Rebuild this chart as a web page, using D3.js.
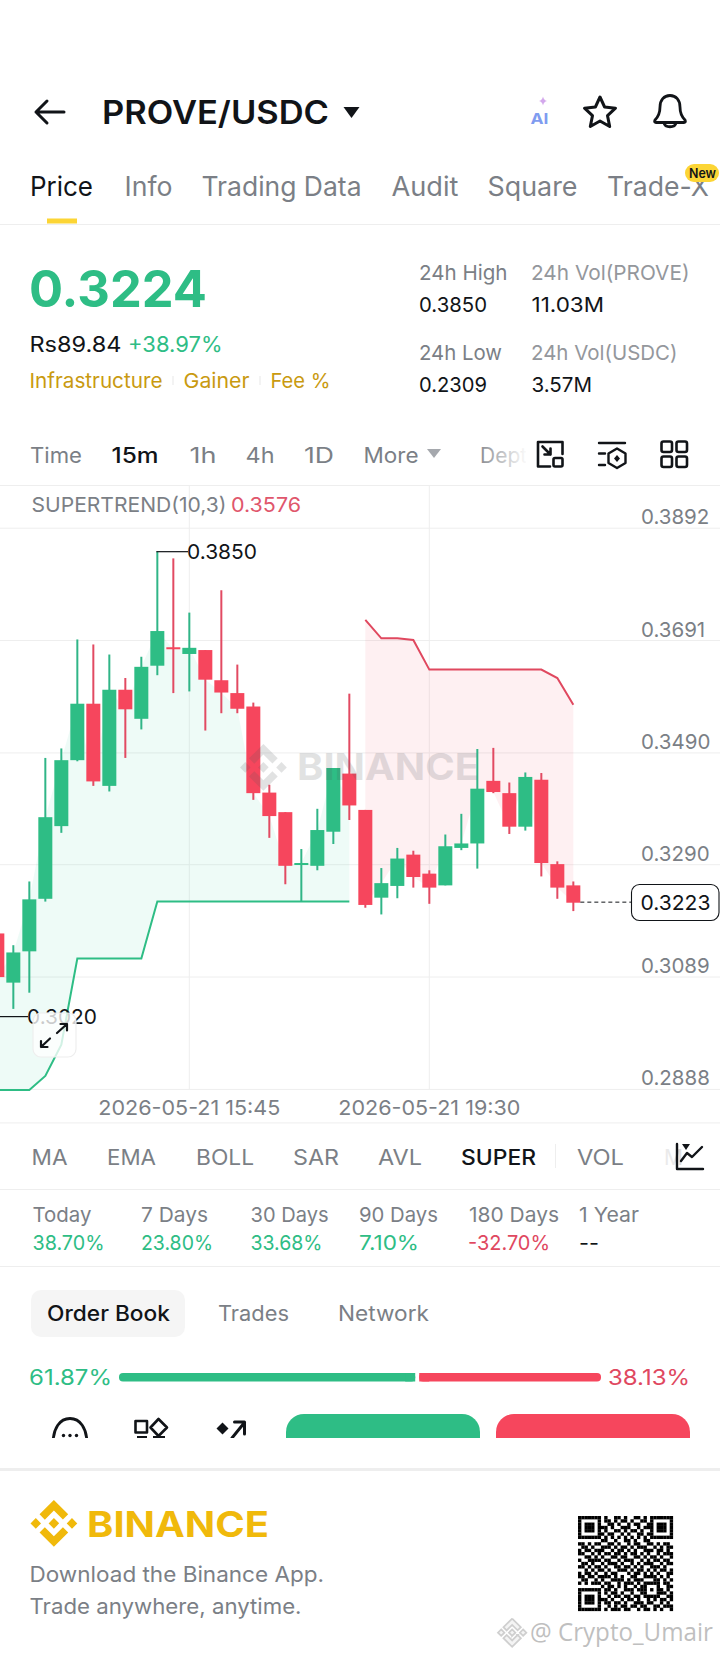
<!DOCTYPE html>
<html>
<head>
<meta charset="utf-8">
<title>PROVE/USDC</title>
<script src="https://cdn.jsdelivr.net/npm/d3@7/dist/d3.min.js"></script>
<style>
  html, body { margin: 0; padding: 0; background: #fff; }
  svg { display: block; }
  text { font-family: Inter, Roboto, sans-serif; }
</style>
</head>
<body>
<div id="chart"></div>
<script>
// candles, oldest first, first one is cut by the left edge
var candleIndex = d3.range(-1, 36)
var candleOpen = [0.3167, 0.3079, 0.3135, 0.3229, 0.3359, 0.3477, 0.3578, 0.3431, 0.3603, 0.3551, 0.3646, 0.3679, 0.3667, 0.3674, 0.3620, 0.3597, 0.3573, 0.3419, 0.3384, 0.3291, 0.3288, 0.3349, 0.3453, 0.3388, 0.3231, 0.3252, 0.3308, 0.3274, 0.3253, 0.3320, 0.3328, 0.3440, 0.3418, 0.3358, 0.3442, 0.3291, 0.3253]
var candleClose = [0.3089, 0.3133, 0.3228, 0.3375, 0.3477, 0.3578, 0.3439, 0.3603, 0.3568, 0.3644, 0.3708, 0.3676, 0.3678, 0.3621, 0.3598, 0.3569, 0.3418, 0.3377, 0.3288, 0.3293, 0.3352, 0.3463, 0.3396, 0.3218, 0.3257, 0.3301, 0.3268, 0.3249, 0.3323, 0.3328, 0.3426, 0.3420, 0.3358, 0.3447, 0.3293, 0.3249, 0.3222]
var candleHigh = [0.3167, 0.3146, 0.3260, 0.3481, 0.3498, 0.3693, 0.3684, 0.3666, 0.3624, 0.3662, 0.3850, 0.3838, 0.3741, 0.3674, 0.3781, 0.3648, 0.3580, 0.3433, 0.3384, 0.3318, 0.3390, 0.3463, 0.3596, 0.3388, 0.3284, 0.3320, 0.3315, 0.3280, 0.3344, 0.3381, 0.3497, 0.3499, 0.3437, 0.3455, 0.3454, 0.3296, 0.3260]
var candleLow = [0.3089, 0.3032, 0.3061, 0.3224, 0.3347, 0.3475, 0.3431, 0.3421, 0.3481, 0.3532, 0.3629, 0.3597, 0.3600, 0.3530, 0.3561, 0.3561, 0.3406, 0.3338, 0.3255, 0.3224, 0.3280, 0.3327, 0.3370, 0.3213, 0.3201, 0.3230, 0.3249, 0.3220, 0.3253, 0.3316, 0.3283, 0.3418, 0.3345, 0.3351, 0.3269, 0.3229, 0.3207]

// supertrend, up leg runs candle -1 to 21, down leg 22 to 35
var superUp = [0.2887, 0.2887, 0.2887, 0.2912, 0.2968, 0.3122, 0.3122, 0.3122, 0.3122, 0.3122, 0.3224, 0.3224, 0.3224, 0.3224, 0.3224, 0.3224, 0.3224, 0.3224, 0.3224, 0.3224, 0.3224, 0.3224, 0.3224]
var superDown = [0.3728, 0.3695, 0.3695, 0.3692, 0.3639, 0.3639, 0.3639, 0.3639, 0.3639, 0.3639, 0.3639, 0.3639, 0.3624, 0.3576]

var priceTicks = [0.3892, 0.3691, 0.3490, 0.3290, 0.3089, 0.2888]
var dateTicks = [11, 26]
var dateLabels = ['2026-05-21 15:45', '2026-05-21 19:30']
var highPrice = 0.3850
var lowPrice = 0.3020
var lastPrice = 0.3223

var tabs = ['Price', 'Info', 'Trading Data', 'Audit', 'Square', 'Trade-X']
var intervals = ['Time', '15m', '1h', '4h', '1D', 'More']
var indicators = ['MA', 'EMA', 'BOLL', 'SAR', 'AVL', 'SUPER', 'VOL']
var periods = ['Today', '7 Days', '30 Days', '90 Days', '180 Days', '1 Year']
var periodValues = ['38.70%', '23.80%', '33.68%', '7.10%', '-32.70%', '--']
var bookTabs = ['Order Book', 'Trades', 'Network']
var buyShare = 61.87
var sellShare = 38.13

var qrRows = [
  '11111110100110100110101111111',
  '10000010110101101001101000001',
  '10111010011010010110011011101',
  '10111011101001110010111011101',
  '10111010100110101101001011101',
  '10000011011001010011011000001',
  '11111110101010101010101111111',
  '00000001100100110100110000000',
  '11010110011010010110011010110',
  '01101001110101101011100101011',
  '10110111001011010100111011010',
  '11001010110110101101010010111',
  '00110101001101100110101101001',
  '10011110110010111001010110110',
  '01101001011101001010111001011',
  '11010110100110110101001110100',
  '00101011010011101011010101101',
  '10110100101100010110101010011',
  '11011011110101001100111101010',
  '01100101001111010111000110101',
  '10101110110010111010111110110',
  '00000001011010100101100010011',
  '11111110110100111011101011010',
  '10000010101101001001100011101',
  '10111010010110110110111110011',
  '10111011101001011010010101101',
  '10111010110110100111011001010',
  '10000010010101101101100110111',
  '11111110101110110010110101001'
]

var GREEN = '#2ebd85'
var RED = '#f6465d'
var RED_LINE = '#e0485f'
var WICK_GREEN = '#30b587'
var WICK_RED = '#e24a62'
var DARK = '#111418'
var GRAY = '#7b7f86'
var LIGHT_GRAY = '#94979c'
var RULE = '#eeeeee'
var GOLD = '#c99a10'
var YELLOW = '#fcd535'
var LOGO = 'M16.624 13.9202l2.7175 2.7154-7.353 7.353-7.353-7.352 2.7175-2.7164 4.6355 4.6595 4.6356-4.6595zm4.6366-4.6366L24 12l-2.7154 2.7164L18.5682 12l2.6924-2.7164zm-9.272.001l2.7163 2.6914-2.7164 2.7174v-.001L9.2721 12l2.7164-2.7154zm-9.2722-.001L5.4088 12l-2.6914 2.6924L0 12l2.7164-2.7164zM11.9885.0115l7.353 7.329-2.7174 2.7154-4.6356-4.6356-4.6355 4.6595-2.7174-2.7154 7.353-7.353z'

var svg = d3.select('#chart').append('svg')
  .attr('width', 720)
  .attr('height', 1658)
  .attr('viewBox', '0 0 720 1658')

var defs = svg.append('defs')
var fade = defs.append('linearGradient')
  .attr('id', 'depth-fade')
  .attr('gradientUnits', 'userSpaceOnUse')
  .attr('x1', 480).attr('x2', 528).attr('y1', 0).attr('y2', 0)
fade.append('stop').attr('offset', 0).attr('stop-color', '#8a8d92')
fade.append('stop').attr('offset', 1).attr('stop-color', '#ffffff')
defs.append('clipPath').attr('id', 'bar-clip')
  .append('rect').attr('x', 0).attr('y', 1400).attr('width', 720).attr('height', 38)

// measured widths are ink widths, textLength also counts the side bearings
function label (parent, str, x, y, size, color, weight, width) {
  var t = parent.append('text')
    .attr('x', width ? x - 1 : x)
    .attr('y', y)
    .attr('font-size', size)
    .attr('font-weight', weight || 400)
    .attr('fill', color)
    .text(str)
  if (width) {
    t.attr('textLength', width + 2).attr('lengthAdjust', 'spacingAndGlyphs')
  }
  return t
}

function icon (parent, d, width) {
  return parent.append('path')
    .attr('d', d)
    .attr('fill', 'none')
    .attr('stroke', DARK)
    .attr('stroke-width', width || 2.5)
    .attr('stroke-linecap', 'round')
    .attr('stroke-linejoin', 'round')
}

function hline (parent, y, height) {
  parent.append('rect')
    .attr('x', 0).attr('y', y)
    .attr('width', 720).attr('height', height || 1)
    .attr('fill', RULE)
}

// header
var head = svg.append('g').attr('class', 'header')
icon(head, 'M36 112H64M47 101L36 112L47 123', 3)
label(head, 'PROVE/USDC', 103, 123.5, 32, DARK, 600, 225)
head.append('path').attr('d', 'M343.5 107H359.5L351.5 118Z').attr('fill', DARK)
head.append('path').attr('d', 'M543 96.5Q543.8 100.2 547 101Q543.8 101.8 543 105.5Q542.2 101.8 539 101Q542.2 100.2 543 96.5Z').attr('fill', '#d3a8ec')
label(head, 'AI', 531.5, 124, 14, '#7f9cf0', 700, 16)
icon(head, 'M600 97L604.6 107L615.5 108.2L607.5 115.6L609.7 126.5L600 121L590.3 126.5L592.5 115.6L584.5 108.2L595.4 107Z', 3)
icon(head, 'M655 120C659 116 660 112 660 107C660 100 664 95.500 670 95.500C676 95.500 680 100 680 107C680 112 681 116 685 120C686 122 685 122.500 684 122.500H656C655 122.500 654 122 655 120ZM664 123C665 128 675 128 676 123', 2.8)

// tabs
var tabBox = [[31, 61], [125.5, 46], [202.5, 158], [392.5, 65], [488.5, 88], [608, 100]]
var tabRow = svg.append('g').attr('class', 'tabs')
tabs.forEach(function (name, i) {
  label(tabRow, name, tabBox[i][0], 196, 26.5, i === 0 ? DARK : GRAY, 400, tabBox[i][1])
})
tabRow.append('rect').attr('x', 47).attr('y', 218.5).attr('width', 30).attr('height', 5).attr('fill', YELLOW)
hline(tabRow, 224)
tabRow.append('rect').attr('x', 685).attr('y', 164).attr('width', 34).attr('height', 18).attr('rx', 9).attr('fill', YELLOW)
label(tabRow, 'New', 690, 177.5, 13.5, DARK, 600, 25)

// ticker block
var ticker = svg.append('g').attr('class', 'ticker')
label(ticker, '0.3224', 30, 306.500, 51, GREEN, 700, 176)
label(ticker, 'Rs89.84', 30.5, 351.500, 21, DARK, 400, 90)
label(ticker, '+38.97%', 129, 351.500, 21, GREEN, 400, 92.500)
label(ticker, 'Infrastructure', 30.5, 388, 20.5, GOLD, 400, 131)
label(ticker, 'Gainer', 184.5, 388, 20.5, GOLD, 400, 64)
label(ticker, 'Fee %', 271.5, 388, 20.5, GOLD, 400, 58)
ticker.selectAll('rect.sep').data([172.5, 259.5]).enter().append('rect')
  .attr('class', 'sep').attr('x', function (d) { return d })
  .attr('y', 376).attr('width', 1).attr('height', 9).attr('fill', '#e8e8e8')
label(ticker, '24h High', 420, 280, 20.5, GRAY, 400, 86.500)
label(ticker, '24h Vol(PROVE)', 532, 280, 20.5, LIGHT_GRAY, 400, 156.500)
label(ticker, '0.3850', 420, 311.500, 20.5, DARK, 400, 66)
label(ticker, '11.03M', 532.5, 311.500, 20.5, DARK, 400, 70.500)
label(ticker, '24h Low', 420, 360, 20.5, GRAY, 400, 81)
label(ticker, '24h Vol(USDC)', 532, 360, 20.5, LIGHT_GRAY, 400, 144.500)
label(ticker, '0.2309', 420, 391.500, 20.5, DARK, 400, 66)
label(ticker, '3.57M', 532.5, 391.500, 20.5, DARK, 400, 58.500)

// interval row
var intervalBox = [[31, 50], [112.5, 45], [190.5, 25], [246.5, 27], [305, 28], [364.5, 53]]
var intervalRow = svg.append('g').attr('class', 'intervals')
intervals.forEach(function (name, i) {
  label(intervalRow, name, intervalBox[i][0], 462.500, 21, i === 1 ? DARK : GRAY, i === 1 ? 500 : 400, intervalBox[i][1])
})
intervalRow.append('path').attr('d', 'M427 449H441L434 458Z').attr('fill', '#a5a8ad')
label(intervalRow, 'Depth', 480, 462.500, 21, 'url(#depth-fade)', 400)
intervalRow.append('rect').attr('x', 526).attr('y', 435).attr('width', 194).attr('height', 40).attr('fill', '#fff')
icon(intervalRow, 'M550 466.500H538V442H562.500V454M542.500 446.500L550.500 454.500M550.500 448.500V454.500H544.500', 2.6)
intervalRow.append('rect').attr('x', 553.500).attr('y', 458).attr('width', 9).attr('height', 8.500).attr('rx', 1.500)
  .attr('fill', 'none').attr('stroke', DARK).attr('stroke-width', 2.6)
icon(intervalRow, 'M599 443H625M599 453.500H605M599 465H605', 2.4)
icon(intervalRow, 'M617 448.500L625.500 453.500V463L617 468L608.500 463V453.500Z', 2.4)
intervalRow.append('path').attr('d', 'M617 455L620 458.500L617 462L614 458.500Z').attr('fill', DARK)
intervalRow.selectAll('rect.cell').data(d3.cross([661.5, 676.5], [441.5, 456.5])).enter().append('rect')
  .attr('class', 'cell')
  .attr('x', function (d) { return d[0] })
  .attr('y', function (d) { return d[1] })
  .attr('width', 10.500).attr('height', 10.500).attr('rx', 2)
  .attr('fill', 'none').attr('stroke', DARK).attr('stroke-width', 2.6)
hline(intervalRow, 485)

// price chart
var x = d3.scaleLinear().domain([-1, 35]).range([-2.67, 573.33])
var y = d3.scaleLinear().domain([0.2888, 0.3892]).range([1089.4, 528.2])
var plotTop = 485
var plotBottom = y(0.2888)
var bodyWidth = 14

var plot = svg.append('g').attr('class', 'plot')

var yAxis = d3.axisRight(y)
  .tickValues(priceTicks)
  .tickSize(720)
  .tickFormat(d3.format('.4f'))
  .offset(0)
var yAxisG = plot.append('g').attr('class', 'y axis').call(yAxis)
yAxisG.select('.domain').remove()
yAxisG.selectAll('line').attr('stroke', RULE)
yAxisG.selectAll('text')
  .attr('x', 641).attr('dy', -4)
  .attr('font-size', 20.500).attr('fill', GRAY)
  .attr('font-family', 'Inter, Roboto, sans-serif')

var xAxis = d3.axisBottom(x)
  .tickValues(dateTicks)
  .tickSize(plotBottom - plotTop)
  .tickFormat(function (d, i) { return dateLabels[i] })
  .offset(0)
var xAxisG = plot.append('g').attr('class', 'x axis')
  .attr('transform', 'translate(0,' + plotTop + ')')
  .call(xAxis)
xAxisG.select('.domain').remove()
xAxisG.selectAll('line').attr('stroke', RULE)
xAxisG.selectAll('text')
  .attr('y', plotBottom - plotTop + 26).attr('dy', 0)
  .attr('font-size', 20.5).attr('fill', GRAY)
  .attr('font-family', 'Inter, Roboto, sans-serif')
  .attr('textLength', 182).attr('lengthAdjust', 'spacingAndGlyphs')
hline(plot, plotBottom + 33)

var upIndex = candleIndex.slice(0, superUp.length)
var downIndex = candleIndex.slice(superUp.length)

var upArea = d3.area()
  .x(function (d) { return x(d) })
  .y0(function (d, i) { return y(superUp[i]) })
  .y1(function (d) { return y(candleClose[d + 1]) })
var downArea = d3.area()
  .x(function (d) { return x(d) })
  .y0(function (d, i) { return y(superDown[i]) })
  .y1(function (d) { return y(candleClose[d + 1]) })
var upLine = d3.line()
  .x(function (d) { return x(d) })
  .y(function (d, i) { return y(superUp[i]) })
var downLine = d3.line()
  .x(function (d) { return x(d) })
  .y(function (d, i) { return y(superDown[i]) })

plot.append('path').datum(upIndex).attr('d', upArea).attr('fill', '#1fc792').attr('fill-opacity', 0.075)
plot.append('path').datum(downIndex).attr('d', downArea).attr('fill', RED).attr('fill-opacity', 0.08)
plot.append('path').datum(upIndex).attr('d', upLine).attr('fill', 'none').attr('stroke', GREEN).attr('stroke-width', 2)
plot.append('path').datum(downIndex).attr('d', downLine).attr('fill', 'none').attr('stroke', RED_LINE).attr('stroke-width', 2)

var candles = plot.selectAll('g.candle')
  .data(candleIndex)
  .enter().append('g')
  .attr('class', 'candle')

function isUp (d) {
  return candleClose[d + 1] >= candleOpen[d + 1]
}

candles.append('line')
  .attr('x1', function (d) { return x(d) })
  .attr('x2', function (d) { return x(d) })
  .attr('y1', function (d) { return y(candleHigh[d + 1]) })
  .attr('y2', function (d) { return y(candleLow[d + 1]) })
  .attr('stroke', function (d) { return isUp(d) ? WICK_GREEN : WICK_RED })
  .attr('stroke-width', 2)
candles.append('rect')
  .attr('x', function (d) { return x(d) - bodyWidth / 2 })
  .attr('width', bodyWidth)
  .attr('y', function (d) { return y(Math.max(candleOpen[d + 1], candleClose[d + 1])) })
  .attr('height', function (d) {
    return Math.max(2, Math.abs(y(candleOpen[d + 1]) - y(candleClose[d + 1])))
  })
  .attr('fill', function (d) { return isUp(d) ? GREEN : RED })

// watermark sits on top of the candles
var mark = plot.append('g').attr('class', 'watermark').attr('opacity', 0.17)
mark.append('path').attr('d', LOGO).attr('fill', '#55585c')
  .attr('transform', 'translate(240,744) scale(1.95)')
label(mark, 'BINANCE', 298, 780, 37, '#55585c', 700, 180)

var notes = plot.append('g').attr('class', 'notes')
notes.append('line')
  .attr('x1', x(9) - 1).attr('x2', 188)
  .attr('y1', y(highPrice)).attr('y2', y(highPrice))
  .attr('stroke', DARK).attr('stroke-width', 1.2)
label(notes, d3.format('.4f')(highPrice), 188, y(highPrice) + 7.5, 20.500, DARK, 400, 68)
notes.append('line')
  .attr('x1', 0).attr('x2', 28)
  .attr('y1', y(lowPrice) + 1).attr('y2', y(lowPrice) + 1)
  .attr('stroke', DARK).attr('stroke-width', 1.2)
label(notes, d3.format('.4f')(lowPrice), 28, y(lowPrice) + 8.5, 20.500, DARK, 400, 68)

notes.append('rect')
  .attr('x', 33).attr('y', 1013).attr('width', 43).attr('height', 44).attr('rx', 8)
  .attr('fill', '#fff').attr('fill-opacity', 0.78)
  .attr('stroke', '#eeeeee').attr('stroke-width', 1.2)
icon(notes, 'M41 1047L50 1038.500M41 1041V1047H47.500M57 1033L67 1024M60.500 1024H67V1030.500', 2.2)

notes.append('line')
  .attr('x1', x(35) + bodyWidth / 2).attr('x2', 631)
  .attr('y1', y(lastPrice)).attr('y2', y(lastPrice))
  .attr('stroke', DARK).attr('stroke-width', 1).attr('stroke-dasharray', '4 3')
notes.append('rect')
  .attr('x', 631.5).attr('y', 884.5).attr('width', 87.5).attr('height', 36).attr('rx', 8)
  .attr('fill', '#fff').attr('stroke', DARK).attr('stroke-width', 1.1)
label(notes, d3.format('.4f')(lastPrice), 641.5, 910, 20.500, DARK, 400, 68)

label(plot, 'SUPERTREND(10,3)', 32.5, 511.500, 20, GRAY, 400, 193)
label(plot, '0.3576', 232, 511.500, 20, '#e0566c', 400, 68)

// indicator row
var indicatorBox = [[32.5, 34], [108, 47], [197, 56], [294, 44], [379, 42], [462, 73], [578, 45]]
var indicatorRow = svg.append('g').attr('class', 'indicators')
indicators.forEach(function (name, i) {
  label(indicatorRow, name, indicatorBox[i][0], 1165, 21, i === 5 ? DARK : GRAY, i === 5 ? 500 : 400, indicatorBox[i][1])
})
label(indicatorRow, 'M', 664, 1165, 21, '#dddddd', 400)
indicatorRow.append('rect').attr('x', 660).attr('y', 1140).attr('width', 15).attr('height', 34).attr('fill', '#fff').attr('fill-opacity', 0.4)
indicatorRow.append('rect').attr('x', 555).attr('y', 1144).attr('width', 1).attr('height', 24).attr('fill', '#eeeeee')
icon(indicatorRow, 'M677 1144V1169H703', 2.4)
icon(indicatorRow, 'M681 1161L687 1153L692 1157L702 1147', 2.4)
indicatorRow.append('path').attr('d', 'M682 1144H690L686 1150Z').attr('fill', DARK)
hline(indicatorRow, 1189)

// period performance
var periodX = [33.5, 142, 251.5, 360, 470, 580]
var periodWidth = [57, 65, 76, 77, 88, 58]
var valueWidth = [70, 70, 70, 58, 80, 18]
var periodRow = svg.append('g').attr('class', 'periods')
periods.forEach(function (name, i) {
  label(periodRow, name, periodX[i], 1222, 20.5, GRAY, 400, periodWidth[i])
  var val = periodValues[i]
  var color = val === '--' ? DARK : (val[0] === '-' ? RED_LINE : GREEN)
  label(periodRow, val, periodX[i] - (i === 4 ? 1 : 0), 1250, 20.5, color, 400, valueWidth[i])
})
hline(periodRow, 1266)

// order book block
var bookX = [48, 219, 339]
var bookWidth = [121, 69, 89]
var book = svg.append('g').attr('class', 'book')
book.append('rect').attr('x', 31).attr('y', 1290).attr('width', 154).attr('height', 47).attr('rx', 10).attr('fill', '#f5f5f5')
bookTabs.forEach(function (name, i) {
  label(book, name, bookX[i], 1321, 21, i === 0 ? DARK : GRAY, i === 0 ? 500 : 400, bookWidth[i])
})

// split bar, square ends meet at the split with a small gap
var share = d3.scaleLinear().domain([0, buyShare + sellShare]).range([119, 601])
var splitGap = 2
label(book, d3.format('.2f')(buyShare) + '%', 30, 1385, 21, GREEN, 400, 81)
label(book, d3.format('.2f')(sellShare) + '%', 609, 1385, 21, RED_LINE, 400, 80)
book.append('rect').attr('x', share(0)).attr('y', 1373).attr('height', 8.5).attr('rx', 4)
  .attr('width', share(buyShare) - splitGap - share(0)).attr('fill', GREEN)
book.append('rect').attr('x', share(buyShare) + splitGap).attr('y', 1373).attr('height', 8.5).attr('rx', 4)
  .attr('width', share(buyShare + sellShare) - share(buyShare) - splitGap).attr('fill', RED)
book.append('rect').attr('x', share(buyShare) - splitGap - 10).attr('y', 1373).attr('width', 10).attr('height', 8.5).attr('fill', GREEN)
book.append('rect').attr('x', share(buyShare) + splitGap).attr('y', 1373).attr('width', 10).attr('height', 8.5).attr('fill', RED)

// bottom action bar, cut by the footer card
var bar = svg.append('g').attr('class', 'bar').attr('clip-path', 'url(#bar-clip)')
bar.append('rect').attr('x', 286).attr('y', 1414).attr('width', 194).attr('height', 60).attr('rx', 18).attr('fill', GREEN)
bar.append('rect').attr('x', 496).attr('y', 1414).attr('width', 194).attr('height', 60).attr('rx', 18).attr('fill', RED)
icon(bar, 'M53 1444C53 1428 60 1418.500 70 1418.500C80 1418.500 87 1428 87 1444', 2.8)
bar.selectAll('circle.dot').data([63.5, 70, 76.5]).enter().append('circle')
  .attr('class', 'dot').attr('cx', function (d) { return d })
  .attr('cy', 1435.5).attr('r', 1.7).attr('fill', DARK)
icon(bar, 'M135.500 1421H147V1432.500H135.500ZM158.500 1419L167 1427.500L158.500 1436L150.500 1427.500Z', 2.6)
bar.append('rect').attr('x', 137).attr('y', 1436).attr('width', 10).attr('height', 3).attr('fill', DARK)
bar.append('rect').attr('x', 153).attr('y', 1436).attr('width', 12).attr('height', 3).attr('fill', DARK)
bar.append('path').attr('d', 'M222.500 1422.500L228.500 1428.500L222.500 1434.500L216.500 1428.500Z').attr('fill', DARK)
icon(bar, 'M232 1438L244.500 1422.500M234.500 1422H244.500V1434', 3)

hline(svg, 1468, 3)

// footer
var footer = svg.append('g').attr('class', 'footer')
footer.append('path').attr('d', LOGO).attr('fill', '#f0b90b')
  .attr('transform', 'translate(30.5,1500) scale(1.95)')
label(footer, 'BINANCE', 88, 1537, 36, '#f0b90b', 700, 180)
label(footer, 'Download the Binance App.', 30.5, 1581.500, 21.500, GRAY, 400, 292.500)
label(footer, 'Trade anywhere, anytime.', 30.5, 1613.500, 21.500, GRAY, 400, 270)

var qrSize = 95 / qrRows.length
var qr = footer.append('g').attr('transform', 'translate(578,1516)')
qrRows.forEach(function (row, r) {
  row.split('').forEach(function (bit, c) {
    if (bit === '1') {
      qr.append('rect')
        .attr('x', c * qrSize).attr('y', r * qrSize)
        .attr('width', qrSize + 0.1).attr('height', qrSize + 0.1)
        .attr('fill', '#000')
    }
  })
})

footer.append('path').attr('d', LOGO)
  .attr('fill', '#f4f4f4').attr('stroke', '#cfcfcf').attr('stroke-width', 1.5)
  .attr('transform', 'translate(498,1618.5) scale(1.18)')
label(footer, '@ Crypto_Umair', 531, 1641, 25, '#bfbfbf', 400, 181)
  .style('font-family', '"Open Sans", sans-serif')
</script>
</body>
</html>
